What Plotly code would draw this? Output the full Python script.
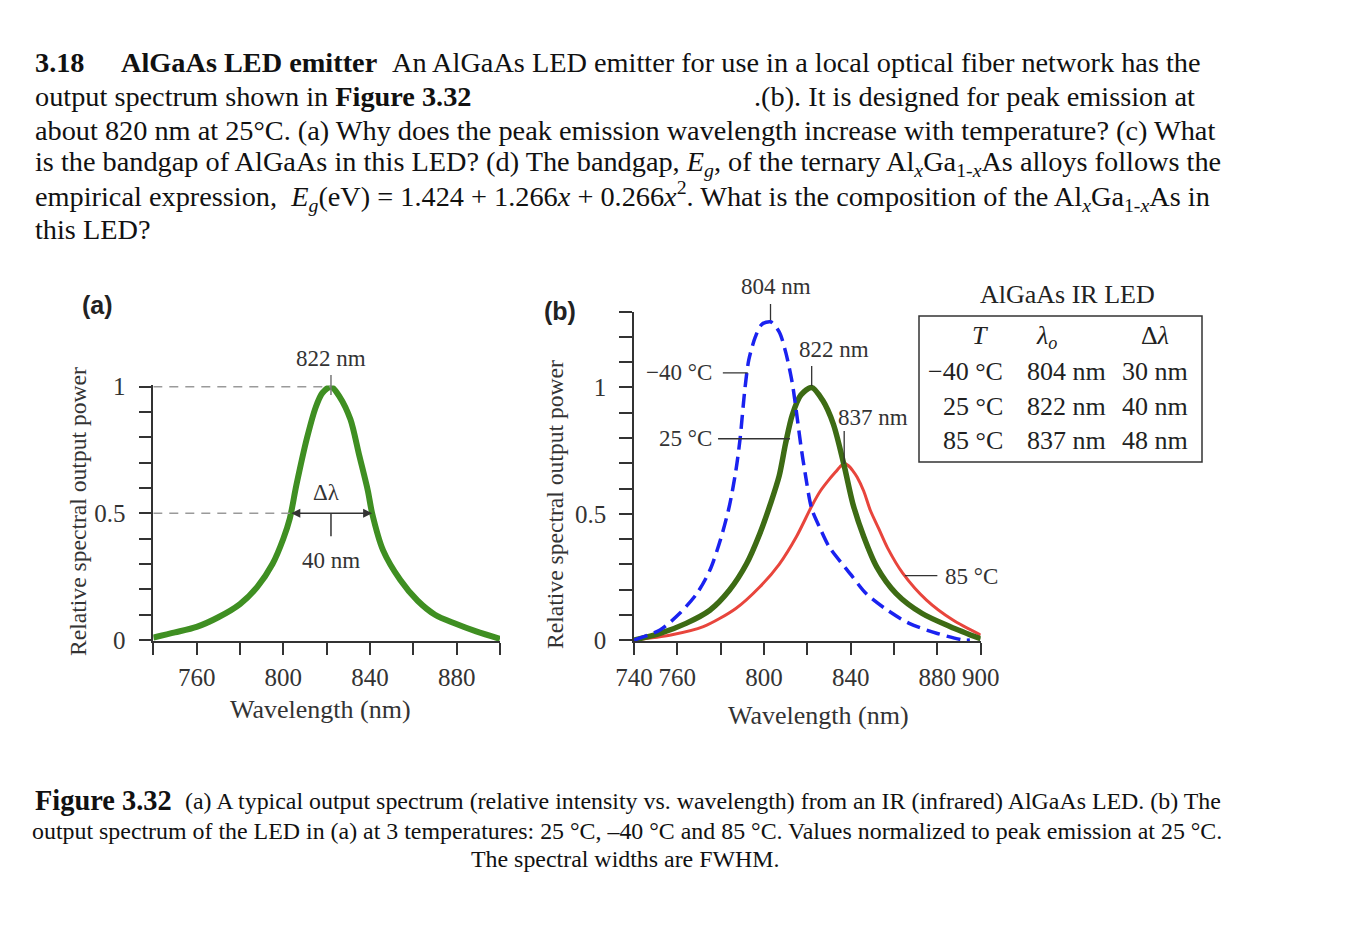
import plotly.graph_objects as go

W, H = 1348, 932

# ---------------- data ----------------
# (a) typical spectrum at 25 C
wl_a = [740, 750, 760, 770, 780, 788, 795, 800, 803, 806, 811, 815, 818, 822,
        826, 831, 835, 839, 841, 846, 854, 862, 870, 879, 889, 900]
rel_a = [0.01, 0.03, 0.052, 0.09, 0.142, 0.21, 0.30, 0.40, 0.48, 0.61, 0.80, 0.92,
         0.975, 1.0, 0.96, 0.87, 0.73, 0.59, 0.50, 0.355, 0.237, 0.155, 0.10,
         0.066, 0.034, 0.005]

# (b) spectra at three temperatures
wl_m40 = [740, 752, 761, 769, 775, 780, 784, 787, 789, 791, 793, 796, 799, 803,
          807, 810, 813, 815, 817, 819, 822, 826, 830, 840, 847, 857, 867, 880,
          892, 895]
rel_m40 = [0.0, 0.04, 0.105, 0.184, 0.276, 0.40, 0.53, 0.67, 0.80, 0.98, 1.11,
           1.20, 1.25, 1.26, 1.22, 1.14, 1.02, 0.90, 0.77, 0.66, 0.52, 0.44, 0.37,
           0.26, 0.185, 0.118, 0.066, 0.026, 0.0, 0.0]

wl_25 = [740, 752, 764, 775, 784, 792, 798, 803, 807, 810, 813, 817, 822, 827,
         832, 837, 841, 846, 852, 861, 873, 886, 900]
rel_25 = [0.0, 0.026, 0.066, 0.118, 0.197, 0.303, 0.42, 0.54, 0.65, 0.78, 0.89,
          0.97, 1.0, 0.95, 0.855, 0.69, 0.54, 0.41, 0.29, 0.184, 0.105, 0.053, 0.005]

wl_85 = [740, 757, 772, 787, 798, 807, 815, 822, 826, 830, 833, 835, 837, 839,
         841, 843, 846, 849, 853, 857, 864, 875, 887, 900]
rel_85 = [0.0, 0.02, 0.053, 0.125, 0.21, 0.30, 0.41, 0.53, 0.59, 0.635, 0.665,
          0.685, 0.70, 0.69, 0.67, 0.645, 0.59, 0.515, 0.44, 0.365, 0.265, 0.158,
          0.08, 0.02]

# table
temps = ["\u221240 \u00b0C", "25 \u00b0C", "85 \u00b0C"]
peaks = ["804 nm", "822 nm", "837 nm"]
widths = ["30 nm", "40 nm", "48 nm"]

xlab_a = [760, 800, 840, 880]
xlab_b = [740, 760, 800, 840, 880, 900]
ylab = [0, 0.5, 1]
ylab_text = ["0", "0.5", "1"]

# ---------------- helpers ----------------
def fx(px):
    return px / W

def fy(py):
    return 1 - py / H

SERIF = "Liberation Serif"
SANS = "Liberation Sans"
AX = "#333333"
TXT = "#111111"

GREEN_A = "#3f8f22"
GREEN_B = "#3d6b14"
BLUE = "#1a22f0"
RED = "#e8453c"

fig = go.Figure()
fig.add_trace(go.Scatter(x=wl_a, y=rel_a, mode="lines", line=dict(color=GREEN_A, width=6, shape="spline", smoothing=0.8),
                         xaxis="x", yaxis="y", showlegend=False, hoverinfo="skip"))
fig.add_trace(go.Scatter(x=wl_85, y=rel_85, mode="lines", line=dict(color=RED, width=3, shape="spline", smoothing=0.8),
                         xaxis="x2", yaxis="y2", showlegend=False, hoverinfo="skip"))
fig.add_trace(go.Scatter(x=wl_25, y=rel_25, mode="lines", line=dict(color=GREEN_B, width=5.5, shape="spline", smoothing=0.8),
                         xaxis="x2", yaxis="y2", showlegend=False, hoverinfo="skip"))
fig.add_trace(go.Scatter(x=wl_m40, y=rel_m40, mode="lines", line=dict(color=BLUE, width=3.5, dash="14px,7px", shape="spline", smoothing=0.8),
                         xaxis="x2", yaxis="y2", showlegend=False, hoverinfo="skip"))

# axes geometry (pixel estimates)
ya_bot, ya_top = 641.3, 385.4
yb_bot, yb_top = 641.3, 311.7

common_x = dict(showgrid=False, zeroline=False, showline=True, linecolor=AX, linewidth=1.5,
                ticks="outside", ticklen=12, tickwidth=1.5, tickcolor=AX, automargin=False,
                tickfont=dict(family=SERIF, size=25, color=AX), tickmode="array",
                range=[740, 900], ticklabelstandoff=1,
                minor=dict(tick0=740, dtick=20, ticks="outside", ticklen=12, tickwidth=1.5,
                           tickcolor=AX, showgrid=False))
common_y = dict(showgrid=False, zeroline=False, showline=True, linecolor=AX, linewidth=1.5,
                ticks="outside", ticklen=13, tickwidth=1.5, tickcolor=AX, automargin=False,
                tickfont=dict(family=SERIF, size=25, color=AX), ticklabelstandoff=8,
                tickmode="array", tickvals=ylab, ticktext=ylab_text,
                minor=dict(tick0=0, dtick=0.1, ticks="outside", ticklen=13, tickwidth=1.5,
                           tickcolor=AX, showgrid=False))

fig.update_layout(
    template="none",
    width=W, height=H, margin=dict(l=0, r=0, t=0, b=0, pad=0, autoexpand=False),
    paper_bgcolor="white", plot_bgcolor="rgba(0,0,0,0)", showlegend=False,
    xaxis=dict(domain=[fx(153.3), fx(500)], tickvals=xlab_a, ticktext=[str(v) for v in xlab_a],
               anchor="y", **common_x),
    yaxis=dict(domain=[fy(ya_bot), fy(ya_top)], range=[-0.005, 1.005], anchor="x", **common_y),
    xaxis2=dict(domain=[fx(634), fx(980.7)], tickvals=xlab_b, ticktext=[str(v) for v in xlab_b],
                anchor="y2", **common_x),
    yaxis2=dict(domain=[fy(yb_bot), fy(yb_top)], range=[-0.005, 1.3], anchor="x2", **common_y),
)

shapes = []
ann = []

def text(px, py, s, size=24, family=SERIF, color=TXT, xanchor="left", yanchor="middle", angle=0):
    ann.append(dict(x=fx(px), y=fy(py), xref="paper", yref="paper", text=s, showarrow=False,
                    xanchor=xanchor, yanchor=yanchor, textangle=angle,
                    font=dict(family=family, size=size, color=color)))

# ---------------- paragraph ----------------
PS = 28.3
text(33, 63, "<b>3.18</b>", PS)
text(119, 63, "<b>AlGaAs LED emitter</b>", PS)
text(390, 63, "An AlGaAs LED emitter for use in a local optical fiber network has the", PS)
text(33, 97, "output spectrum shown in <b>Figure 3.32</b>", PS)
text(752, 97, ".(b). It is designed for peak emission at", PS)
text(33, 130, "about 820 nm at 25\u00b0C. (a) Why does the peak emission wavelength increase with temperature? (c) What", PS)
text(33, 163, "is the bandgap of AlGaAs in this LED? (d) The bandgap, <i>E<sub>g</sub></i>, of the ternary "
              "Al<sub><i>x</i></sub>Ga<sub>1-<i>x</i></sub>As alloys follows the", PS)
text(33, 196, "empirical expression,  <i>E<sub>g</sub></i>(eV) = 1.424 + 1.266<i>x</i> + 0.266<i>x</i><sup>2</sup>. "
              "What is the composition of the Al<sub><i>x</i></sub>Ga<sub>1-<i>x</i></sub>As in", PS)
text(33, 229, "this LED?", PS)

# ---------------- caption ----------------
CS = 23.9
text(33, 800, "<b>Figure 3.32</b>", 28.4)
text(183, 801, "(a) A typical output spectrum (relative intensity vs. wavelength) from an IR (infrared) AlGaAs LED. (b) The", CS)
text(30, 831, "output spectrum of the LED in (a) at 3 temperatures: 25 \u00b0C, \u201340 \u00b0C and 85 \u00b0C. Values normalized to peak emission at 25 \u00b0C.", CS)
text(625, 859, "The spectral widths are FWHM.", CS, xanchor="center")

LS = 23  # plot label size
YT = 23.6

# ---------------- panel (a) ----------------
text(97, 305, "<b>(a)</b>", 25, family=SANS, color="#222222", xanchor="center")
text(78, 512, "Relative spectral output power", YT, color=AX, xanchor="center", angle=-90)
text(320, 709, "Wavelength (nm)", 26, color=AX, xanchor="center")

peak_a = wl_a[rel_a.index(max(rel_a))]
shapes.append(dict(type="line", xref="x", yref="y", x0=740, x1=peak_a, y0=1, y1=1,
                   line=dict(color="#9a9a9a", width=1.5, dash="9px,7px")))
shapes.append(dict(type="line", xref="x", yref="y", x0=740, x1=803, y0=0.5, y1=0.5,
                   line=dict(color="#9a9a9a", width=1.5, dash="9px,7px")))
shapes.append(dict(type="line", xref="x", yref="paper", x0=peak_a, x1=peak_a, y0=fy(395), y1=fy(375),
                   line=dict(color="#777777", width=1.5)))
shapes.append(dict(type="line", xref="x", yref="y", x0=peak_a, x1=peak_a, y0=0.5, y1=0.41,
                   line=dict(color=AX, width=1.5)))
ann.append(dict(x=841, y=0.5, ax=803, ay=0.5, xref="x", yref="y", axref="x", ayref="y", text="",
                showarrow=True, arrowside="end+start", arrowhead=2, arrowsize=1.2, arrowwidth=1.5,
                arrowcolor=AX, standoff=0, startstandoff=0))
for lab, py, sh in [("822 nm", 358, 0), ("\u0394\u03bb", 492, -4), ("40 nm", 560, 0)]:
    ann.append(dict(x=peak_a, y=fy(py), xref="x", yref="paper", text=lab, showarrow=False,
                    xanchor="center", yanchor="middle", xshift=sh,
                    font=dict(family=SERIF, size=LS, color=AX)))

# ---------------- panel (b) ----------------
text(560, 311, "<b>(b)</b>", 25, family=SANS, color="#222222", xanchor="center")
text(555, 505, "Relative spectral output power", YT, color=AX, xanchor="center", angle=-90)
text(818, 715, "Wavelength (nm)", 26, color=AX, xanchor="center")

pk_m40 = wl_m40[rel_m40.index(max(rel_m40))]
pk_25 = wl_25[rel_25.index(max(rel_25))]
pk_85 = wl_85[rel_85.index(max(rel_85))]
for pk, ytop, ybot, lab, ylab_px, sh in [(pk_m40, 304, 320, peaks[0], 287, 5),
                                         (pk_25, 366, 386, peaks[1], 350, 22),
                                         (pk_85, 431, 464, peaks[2], 417, 29)]:
    shapes.append(dict(type="line", xref="x2", yref="paper", x0=pk, x1=pk, y0=fy(ybot), y1=fy(ytop),
                       line=dict(color=AX, width=1.3)))
    ann.append(dict(x=pk, y=fy(ylab_px), xref="x2", yref="paper", text=lab, showarrow=False,
                    xanchor="center", yanchor="middle", xshift=sh,
                    font=dict(family=SERIF, size=LS, color=AX)))

# leader lines for temperature labels
shapes.append(dict(type="line", xref="x2", yref="y2", x0=781, x1=792.5, y0=1.058, y1=1.058, line=dict(color=AX, width=1.3)))
shapes.append(dict(type="line", xref="x2", yref="y2", x0=778.8, x1=812, y0=0.797, y1=0.797, line=dict(color=AX, width=1.3)))
shapes.append(dict(type="line", xref="x2", yref="y2", x0=865, x1=880, y0=0.255, y1=0.255, line=dict(color=AX, width=1.3)))
text(714, 373, temps[0], LS, color=AX, xanchor="right")
text(714, 438, temps[1], LS, color=AX, xanchor="right")
text(943, 576, temps[2], LS, color=AX, xanchor="left")

# ---------------- table ----------------
TS = 26
text(1067, 294, "AlGaAs IR LED", TS, color="#222222", xanchor="center")
shapes.append(dict(type="rect", xref="paper", yref="paper", x0=fx(919), x1=fx(1202), y0=fy(462), y1=fy(316),
                   line=dict(color=AX, width=1.5)))
text(980, 336, "<i>T</i>", TS, color="#222222", xanchor="center")
text(1046, 337, "<i>\u03bb</i><sub><i>o</i></sub>", TS, color="#222222", xanchor="center")
text(1155, 335, "\u0394<i>\u03bb</i>", TS, color="#222222", xanchor="center")
for i, yy in enumerate([371, 406, 440]):
    text(1005, yy, temps[i], TS, color="#222222", xanchor="right")
    text(1066, yy, peaks[i], TS, color="#222222", xanchor="center")
    text(1155, yy, widths[i], TS, color="#222222", xanchor="center")

fig.update_layout(shapes=shapes, annotations=ann)
fig.write_html("out.html")
